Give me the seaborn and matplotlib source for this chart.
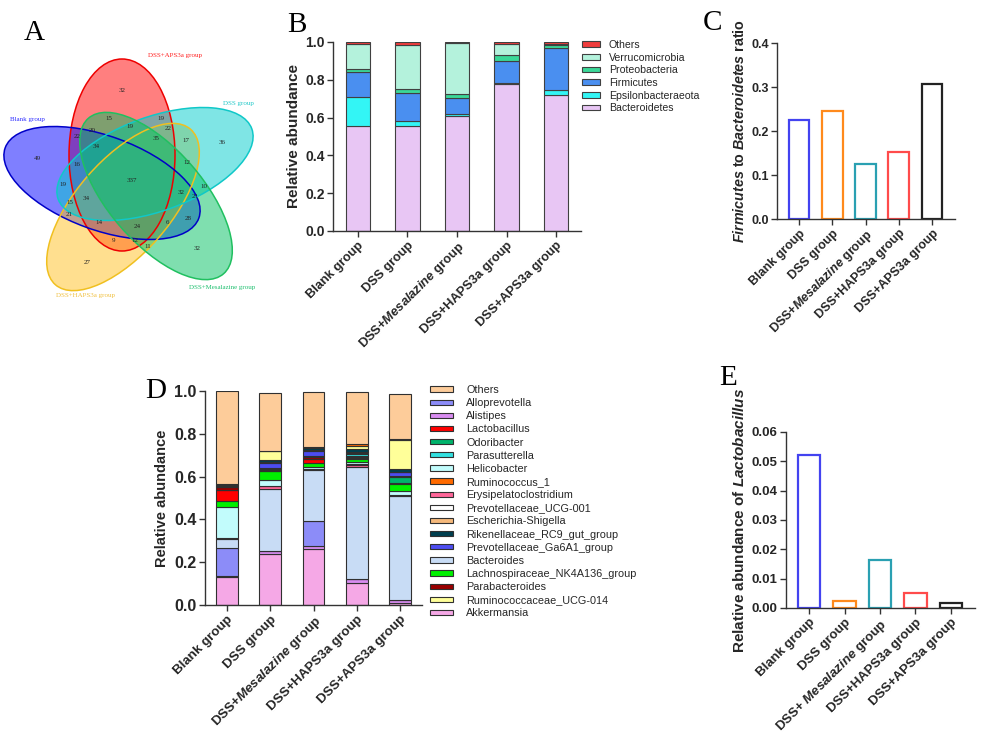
import numpy as np
import matplotlib
matplotlib.use("Agg")
import matplotlib.pyplot as plt
import seaborn as sns
from matplotlib.patches import Ellipse, Patch

sns.set_theme(style="ticks")
plt.rcParams['font.family'] = ['Liberation Sans', 'DejaVu Sans']
plt.rcParams['mathtext.fontset'] = 'custom'
plt.rcParams['mathtext.rm'] = 'Liberation Sans:bold'
plt.rcParams['mathtext.it'] = 'Liberation Sans:italic:bold'
plt.rcParams['mathtext.bf'] = 'Liberation Sans:bold'

W, H = 986, 736

# ---- data ----
groups = ["Blank group", "DSS group", r"DSS+$\it{Mesalazine}$ group",
          "DSS+HAPS3a group", "DSS+APS3a group"]
groups_e = ["Blank group", "DSS group", r"DSS+ $\it{Mesalazine}$ group",
            "DSS+HAPS3a group", "DSS+APS3a group"]
group_colors = ["#4343f0", "#ff8a1c", "#2aa0b2", "#ff4b4b", "#222222"]

# venn (A)
venn_names = ["Blank group", "DSS+APS3a group", "DSS group",
              "DSS+Mesalazine group", "DSS+HAPS3a group"]
venn_counts = [32, 19, 15, 36, 49, 22, 20, 19, 22, 35, 17, 34, 16, 12, 337,
               19, 32, 10, 15, 34, 21, 21, 28, 14, 24, 6, 9, 12, 11, 32, 27]

# phylum level (B), stacked bottom -> top
phyla = ["Bacteroidetes", "Epsilonbacteraeota", "Firmicutes",
         "Proteobacteria", "Verrucomicrobia", "Others"]
bacteroidetes = [0.557, 0.553, 0.606, 0.777, 0.720]
epsilonbacteraeota = [0.150, 0.027, 0.014, 0.008, 0.027]
firmicutes = [0.134, 0.150, 0.085, 0.117, 0.221]
proteobacteria = [0.018, 0.020, 0.019, 0.030, 0.014]
verrucomicrobia = [0.131, 0.232, 0.271, 0.056, 0.010]
others_phylum = [0.010, 0.018, 0.005, 0.010, 0.008]
phyla_colors = ["#e8c6f4", "#33f5f5", "#4a8ff0", "#3ad898", "#b4f2dc", "#f03c3c"]

# F/B ratio (C)
fb_ratio = [0.226, 0.246, 0.124, 0.153, 0.307]

# genus level (D), stacked bottom -> top
genera = ["Akkermansia", "Alistipes", "Alloprevotella", "Bacteroides",
          "Erysipelatoclostridium", "Escherichia-Shigella", "Helicobacter",
          "Lachnospiraceae_NK4A136_group", "Lactobacillus", "Odoribacter",
          "Parabacteroides", "Parasutterella", "Prevotellaceae_Ga6A1_group",
          "Prevotellaceae_UCG-001", "Rikenellaceae_RC9_gut_group",
          "Ruminococcaceae_UCG-014", "Ruminococcus_1", "Others"]
akkermansia = [0.130, 0.238, 0.264, 0.101, 0.010]
alistipes = [0.005, 0.014, 0.012, 0.019, 0.012]
alloprevotella = [0.130, 0.002, 0.115, 0.003, 0.003]
bacteroides = [0.045, 0.290, 0.240, 0.520, 0.485]
erysipelatoclostridium = [0.002, 0.010, 0.003, 0.010, 0.003]
escherichia = [0.002, 0.003, 0.002, 0.006, 0.002]
helicobacter = [0.145, 0.028, 0.008, 0.010, 0.020]
lachnospiraceae = [0.025, 0.040, 0.020, 0.012, 0.032]
lactobacillus = [0.052, 0.0025, 0.0163, 0.005, 0.0018]
odoribacter = [0.003, 0.005, 0.004, 0.005, 0.030]
parabacteroides = [0.012, 0.003, 0.006, 0.006, 0.003]
parasutterella = [0.002, 0.004, 0.004, 0.008, 0.003]
prevotellaceae_ga6a1 = [0.002, 0.025, 0.025, 0.006, 0.015]
prevotellaceae_ucg001 = [0.003, 0.002, 0.003, 0.002, 0.002]
rikenellaceae = [0.002, 0.010, 0.010, 0.015, 0.015]
ruminococcaceae_ucg014 = [0.003, 0.042, 0.006, 0.013, 0.135]
ruminococcus_1 = [0.002, 0.003, 0.002, 0.012, 0.002]
others_genus = [0.435, 0.268, 0.257, 0.240, 0.213]
genus_colors = ["#f5a8e6", "#d88cf0", "#8c8cf8", "#c8dcf5", "#ff6699",
                "#f5b97c", "#c2fcfc", "#00f000", "#ff0000", "#00b36b",
                "#990000", "#33e0e0", "#4d4df0", "#ffffff", "#003f4f",
                "#ffff99", "#ff6a00", "#fdcc9a"]
legend_order_d = ["Others", "Alloprevotella", "Alistipes", "Lactobacillus",
                  "Odoribacter", "Parasutterella", "Helicobacter",
                  "Ruminococcus_1", "Erysipelatoclostridium",
                  "Prevotellaceae_UCG-001", "Escherichia-Shigella",
                  "Rikenellaceae_RC9_gut_group", "Prevotellaceae_Ga6A1_group",
                  "Bacteroides", "Lachnospiraceae_NK4A136_group",
                  "Parabacteroides", "Ruminococcaceae_UCG-014", "Akkermansia"]

# lactobacillus (E)
lacto_abund = [0.0522, 0.0025, 0.0163, 0.0050, 0.0018]


def px(l, t, r, b):
    return [l / W, 1 - b / H, (r - l) / W, (b - t) / H]


def style_axis(ax, fs_tick, lw=1.0):
    for s in ["top", "right"]:
        ax.spines[s].set_visible(False)
    for s in ["left", "bottom"]:
        ax.spines[s].set_linewidth(lw)
        ax.spines[s].set_color("#333333")
    ax.tick_params(axis="both", direction="out", length=4, width=lw,
                   color="#333333", labelsize=fs_tick, pad=2)
    for lab in ax.get_yticklabels() + ax.get_xticklabels():
        lab.set_fontweight("bold")
    plt.setp(ax.get_xticklabels(), rotation=45, ha="right",
             rotation_mode="anchor")


fig = plt.figure(figsize=(W / 100, H / 100), dpi=100)

# ---- A: venn ----
axA = fig.add_axes([0, 0, 1, 1], label="venn")
axA.set_xlim(0, W)
axA.set_ylim(H, 0)
axA.axis("off")
# drawn in this order: APS3a (red), Blank (blue), HAPS3a (yellow), DSS (cyan), Mesalazine (green)
ell_spec = [  # center, width, height, angle, face, edge
    ((122, 155), 192, 106, 90, "#ff0000", "#ee0000"),
    ((102, 183), 206, 94, 20, "#0000ff", "#0000c8"),
    ((123, 207), 206, 94, -49, "#ffc020", "#f0c020"),
    ((155, 164), 206, 94, -20, "#00cccc", "#10c8c8"),
    ((156, 196), 206, 94, 49, "#00c060", "#20c060"),
]
for (c, w, h, a, fc, ec) in ell_spec:
    axA.add_patch(Ellipse(c, w, h, angle=a, facecolor=fc, alpha=0.5,
                          edgecolor="none"))
for (c, w, h, a, fc, ec) in ell_spec:
    axA.add_patch(Ellipse(c, w, h, angle=a, facecolor="none",
                          edgecolor=ec, lw=1.1))
count_pos = [(122, 91), (161, 118), (109, 119), (222, 143), (37, 159),
             (77, 136), (92, 131), (130, 127), (168, 129), (156, 139),
             (186, 140), (96, 146), (77, 165), (187, 163), (132, 180),
             (63, 184), (181, 192), (204, 186), (70, 202), (86, 199),
             (195, 197), (69, 214), (188, 218), (99, 223), (137, 227),
             (167, 223), (113, 241), (135, 241), (148, 247), (197, 249),
             (87, 263)]
for n, (x, y) in zip(venn_counts, count_pos):
    axA.text(x, y, str(n), ha="center", va="center", fontsize=5,
             family="Liberation Serif", color="#222222")
name_pos = [(27, 119), (175, 56), (238, 103), (222, 288), (86, 296)]
name_col = ["#3030ff", "#ff2020", "#20c8c8", "#20c070", "#f0c040"]
for nm, (x, y), col in zip(venn_names, name_pos, name_col):
    axA.text(x, y, nm, ha="center", va="center", fontsize=5,
             family="Liberation Serif", color=col)
for lt, (x, y) in zip("ABCDE", [(34, 33), (297, 25), (713, 23), (156, 391),
                                (728, 378)]):
    axA.text(x, y, lt, ha="center", va="center", fontsize=21,
             family="Liberation Serif", color="black")

# ---- B: phylum stacked ----
axB = fig.add_axes(px(333, 42, 581, 231))
phylum_vals = [bacteroidetes, epsilonbacteraeota, firmicutes,
               proteobacteria, verrucomicrobia, others_phylum]
base = np.zeros(len(groups))
for name, vals, col in zip(phyla, phylum_vals, phyla_colors):
    sns.barplot(x=groups, y=vals, bottom=base, color=col, saturation=1,
                width=0.49, edgecolor="#404040", linewidth=0.8, ax=axB)
    base = base + np.array(vals)
axB.set_ylim(0, 1.0)
axB.set_xlim(-0.5, 4.5)
axB.set_yticks([0, 0.2, 0.4, 0.6, 0.8, 1.0])
axB.set_ylabel("Relative abundance", fontsize=11, fontweight="bold",
               labelpad=3)
style_axis(axB, 10)
axB.tick_params(axis="x", labelsize=9.3)
hB = [Patch(facecolor=c, edgecolor="#404040", lw=0.8, label=n)
      for n, c in zip(phyla, phyla_colors)][::-1]
fig.legend(handles=hB, loc="upper left", bbox_to_anchor=(582 / W, 1 - 40 / H),
           frameon=False, fontsize=7.6, handlelength=1.7, handleheight=0.48,
           handletextpad=0.85, labelspacing=0.25, borderpad=0, borderaxespad=0)

# ---- C: F/B ratio ----
axC = fig.add_axes(px(777, 43, 955, 219))
sns.barplot(x=groups, y=fb_ratio, hue=groups, palette=group_colors,
            fill=False, linewidth=1.6, width=0.62, saturation=1,
            legend=False, ax=axC)
axC.set_ylim(0, 0.4)
axC.set_xlim(-0.66, 4.69)
axC.set_yticks([0, 0.1, 0.2, 0.3, 0.4])
axC.set_ylabel(r"$\it{Firmicutes}$ to $\it{Bacteroidetes}$ ratio",
               fontsize=10.3, fontweight="bold", labelpad=3)
style_axis(axC, 9)
axC.tick_params(axis="x", labelsize=9)

# ---- D: genus stacked ----
axD = fig.add_axes(px(205, 391, 422, 605))
genus_vals = [akkermansia, alistipes, alloprevotella, bacteroides,
              erysipelatoclostridium, escherichia, helicobacter,
              lachnospiraceae, lactobacillus, odoribacter, parabacteroides,
              parasutterella, prevotellaceae_ga6a1, prevotellaceae_ucg001,
              rikenellaceae, ruminococcaceae_ucg014, ruminococcus_1,
              others_genus]
base = np.zeros(len(groups))
for name, vals, col in zip(genera, genus_vals, genus_colors):
    sns.barplot(x=groups, y=vals, bottom=base, color=col, saturation=1,
                width=0.5, edgecolor="#303030", linewidth=0.8, ax=axD)
    base = base + np.array(vals)
axD.set_ylim(0, 1.0)
axD.set_xlim(-0.5, 4.5)
axD.set_yticks([0, 0.2, 0.4, 0.6, 0.8, 1.0])
axD.set_ylabel("Relative abundance", fontsize=10.5, fontweight="bold",
               labelpad=4)
style_axis(axD, 11.5)
axD.tick_params(axis="x", labelsize=9.6)
cmap_d = dict(zip(genera, genus_colors))
hD = [Patch(facecolor=cmap_d[n], edgecolor="#303030", lw=0.8, label=n)
      for n in legend_order_d]
fig.legend(handles=hD, loc="upper left", bbox_to_anchor=(430 / W, 1 - 385 / H),
           frameon=False, fontsize=7.8, handlelength=2.1, handleheight=0.38,
           handletextpad=1.25, labelspacing=0.29, borderpad=0, borderaxespad=0)

# ---- E: lactobacillus ----
axE = fig.add_axes(px(786, 432, 975, 608))
sns.barplot(x=groups_e, y=lacto_abund, hue=groups_e, palette=group_colors,
            fill=False, linewidth=1.6, width=0.64, saturation=1,
            legend=False, ax=axE)
axE.set_ylim(0, 0.06)
axE.set_xlim(-0.65, 4.68)
axE.set_yticks([0, 0.01, 0.02, 0.03, 0.04, 0.05, 0.06])
axE.set_ylabel(r"Relative abundance of $\it{Lactobacillus}$",
               fontsize=11, fontweight="bold", labelpad=3)
style_axis(axE, 9.5)
axE.tick_params(axis="x", labelsize=9.5)

fig.savefig("out.png", dpi=100)
